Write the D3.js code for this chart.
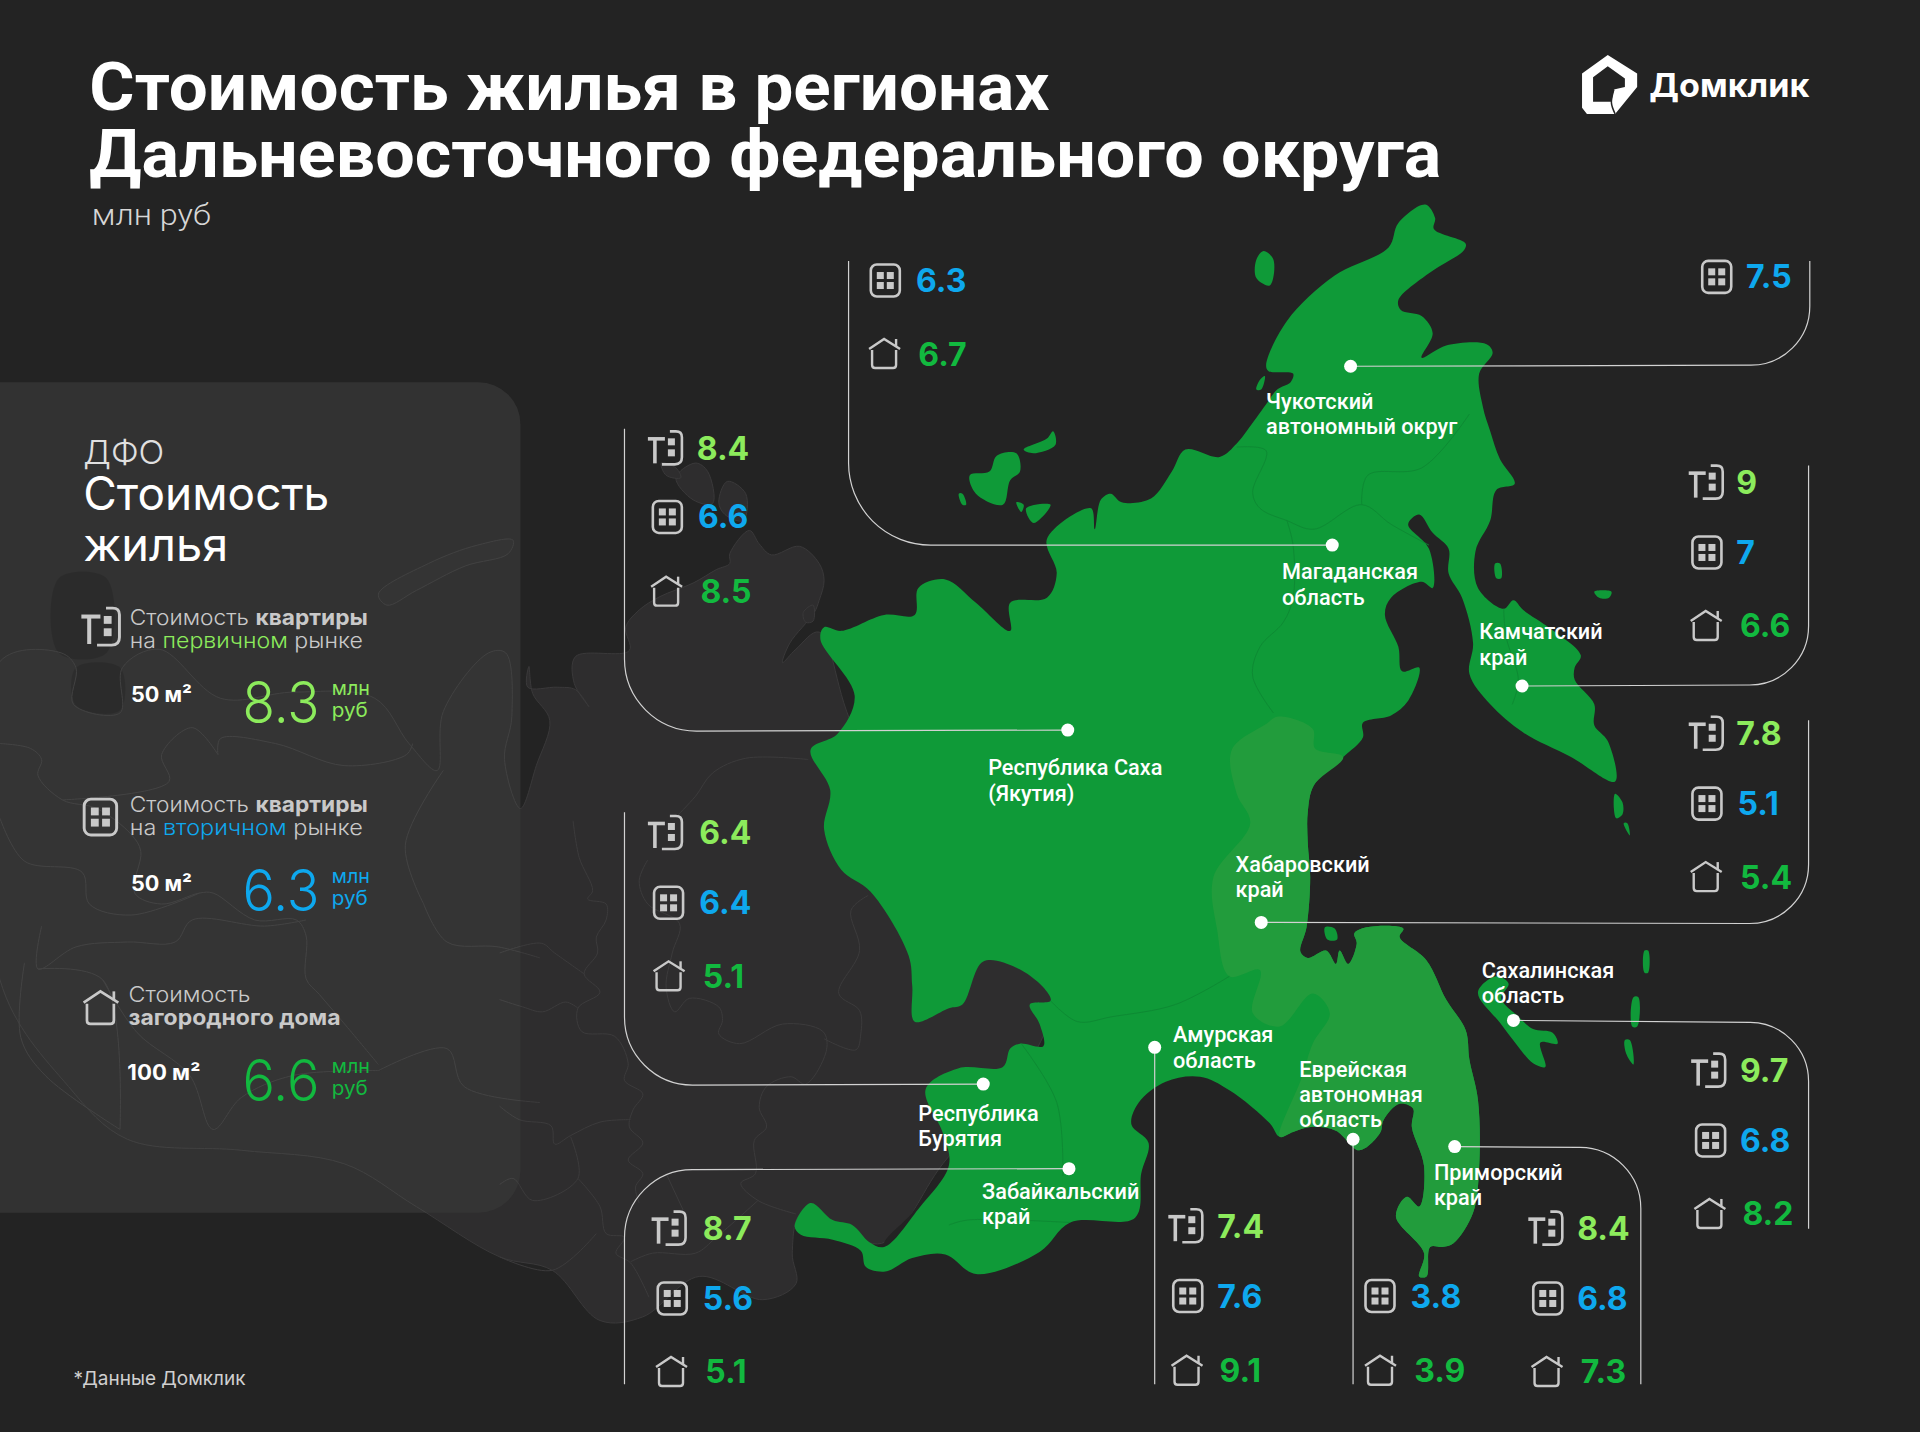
<!DOCTYPE html>
<html lang="ru">
<head>
<meta charset="utf-8">
<title>Стоимость жилья ДФО</title>
<script src="https://cdn.jsdelivr.net/npm/d3@7/dist/d3.min.js"></script>
<style>
html, body { margin: 0; padding: 0; background: #232323; }
svg { display: block; }
text { font-family: Inter, "Noto Sans", sans-serif; }
.din { font-family: Roboto, "Noto Sans", sans-serif; }
</style>
</head>
<body>
<svg id="chart" width="1920" height="1432"></svg>
<script>
// values, млн руб. null = no number shown for that region
const regions = ['Чукотский АО', 'Магаданская', 'Саха', 'Камчатский', 'Хабаровский', 'Бурятия', 'Сахалинская', 'Забайкальский', 'Амурская', 'Еврейская', 'Приморский']
const primaryValues = [null, null, '8.4', '9', '7.8', '6.4', '9.7', '8.7', '7.4', null, '8.4']
const secondaryValues = ['7.5', '6.3', '6.6', '7', '5.1', '6.4', '6.8', '5.6', '7.6', '3.8', '6.8']
const houseValues = [null, '6.7', '8.5', '6.6', '5.4', '5.1', '8.2', '5.1', '9.1', '3.9', '7.3']
const summaryValues = ['8.3', '6.3', '6.6']
const summaryAreas = ['50 м²', '50 м²', '100 м²']

const regionLabels = [
    ['Чукотский', 'автономный округ'], ['Магаданская', 'область'], ['Республика Саха', '(Якутия)'],
    ['Камчатский', 'край'], ['Хабаровский', 'край'], ['Республика', 'Бурятия'], ['Сахалинская', 'область'],
    ['Забайкальский', 'край'], ['Амурская', 'область'], ['Еврейская', 'автономная', 'область'], ['Приморский', 'край']
]

// geography, traced in picture units (1568 wide)
const mainland = [[1164,167],[1172,178],[1171,187],[1197,199],[1195,205],[1183,213],[1167,223],[1142,245],[1144,253],[1161,258],[1170,272],[1161,292],[1181,282],[1214,281],[1219,288],[1208,305],[1211,332],[1217,352],[1225,375],[1237,395],[1222,400],[1217,425],[1205,450],[1207,480],[1228,497],[1236,490],[1244,498],[1266,513],[1291,535],[1286,545],[1286,555],[1302,575],[1302,592],[1313,605],[1319,638],[1283,618],[1244,598],[1217,575],[1200,550],[1203,525],[1194,488],[1183,468],[1183,448],[1170,435],[1159,420],[1150,428],[1167,448],[1170,480],[1161,475],[1136,488],[1131,502],[1142,528],[1145,548],[1159,545],[1150,572],[1136,584],[1113,590],[1113,602],[1097,618],[1073,641],[1068,663],[1068,688],[1070,716],[1067,757],[1062,777],[1068,782],[1083,776],[1091,787],[1094,776],[1101,787],[1108,770],[1106,762],[1116,757],[1146,758],[1143,765],[1165,784],[1181,816],[1197,841],[1200,865],[1207,898],[1208,952],[1203,990],[1187,1015],[1178,1018],[1168,1018],[1165,1042],[1159,1042],[1163,1023],[1140,993],[1149,977],[1159,985],[1163,952],[1153,920],[1154,905],[1143,901],[1130,914],[1127,925],[1110,939],[1091,923],[1070,920],[1056,924],[1045,928],[1037,917],[1004,890],[980,879],[952,883],[930,900],[924,918],[938,933],[932,958],[927,994],[874,998],[849,1022],[797,1040],[772,1024],[745,1027],[723,1038],[707,1034],[703,1021],[680,1012],[654,1008],[649,1001],[662,982],[680,996],[696,1000],[710,1014],[722,1018],[750,987],[775,951],[770,925],[756,889],[783,872],[819,871],[825,856],[833,852],[852,854],[849,836],[841,820],[858,817],[852,806],[830,790],[803,785],[786,820],[775,823],[747,834],[745,805],[742,780],[711,728],[687,710],[673,677],[678,645],[662,612],[684,599],[698,568],[670,522],[673,512],[687,515],[722,502],[747,502],[750,480],[772,473],[797,492],[825,515],[825,492],[855,488],[863,468],[855,440],[891,415],[894,432],[899,408],[907,403],[916,410],[940,407],[957,385],[968,367],[996,373],[1010,362],[1018,352],[1034,330],[1043,318],[1054,312],[1056,305],[1036,303],[1034,298],[1051,262],[1090,225],[1134,202],[1142,182]]
const lighterArea = [[1006,612],[1034,591],[1044,585],[1072,595],[1074,611],[1097,618],[1073,641],[1068,663],[1068,688],[1070,716],[1067,757],[1062,777],[1068,782],[1083,776],[1091,787],[1094,776],[1101,787],[1108,770],[1106,762],[1116,757],[1146,758],[1143,765],[1165,784],[1181,816],[1197,841],[1200,865],[1207,898],[1208,952],[1203,990],[1187,1015],[1178,1018],[1168,1018],[1165,1042],[1159,1042],[1163,1023],[1140,993],[1149,977],[1159,985],[1163,952],[1153,920],[1154,905],[1143,901],[1130,914],[1127,925],[1110,939],[1091,923],[1070,920],[1056,924],[1045,928],[1063,880],[1072,852],[1086,827],[1072,811],[1045,838],[1023,827],[1029,792],[1004,797],[994,759],[991,716],[1021,672],[1010,648]]
const islands = [[[1026,212],[1032,205],[1040,212],[1037,233],[1026,227]],[[792,388],[808,385],[814,372],[830,370],[833,385],[825,392],[819,412],[797,403]],[[836,367],[855,358],[860,352],[862,363],[844,370]],[[838,415],[858,412],[844,427]],[[830,410],[836,412],[834,418]],[[783,403],[786,403],[789,412],[786,412]],[[1029,310],[1033,307],[1030,318],[1026,318]],[[1221,460],[1225,460],[1226,472],[1222,472]],[[1302,483],[1316,483],[1314,488],[1306,488]],[[1319,648],[1325,655],[1325,665],[1320,668],[1318,660]],[[1326,672],[1329,672],[1331,682]],[[1207,810],[1222,797],[1232,803],[1226,815],[1240,830],[1252,840],[1268,843],[1272,852],[1258,851],[1262,871],[1252,868],[1238,852],[1225,835]],[[1343,776],[1346,776],[1346,794],[1343,794]],[[1334,814],[1338,814],[1337,838],[1333,838]],[[1327,849],[1331,849],[1334,869],[1328,860]],[[1082,757],[1090,758],[1092,767],[1084,767]]]
const regionBorders = [[[1010,365],[1034,368],[1023,402],[1029,415],[1051,425],[1073,432],[1112,412],[1136,428],[1167,445]],[[1112,412],[1117,388],[1161,382],[1200,338]],[[1051,425],[1056,445],[1056,488],[1048,508],[1029,528],[1023,552],[1040,582]],[[858,817],[880,834],[908,830],[960,820],[1004,797]],[[834,852],[863,900],[868,960]],[[775,1000],[790,996],[874,998]],[[1228,497],[1230,520],[1240,555],[1235,575]]]

const ghostLand = [[0,540],[50,533],[62,545],[60,575],[98,582],[100,545],[130,530],[180,570],[240,565],[306,570],[334,607],[357,629],[362,581],[399,533],[413,533],[418,585],[412,620],[425,660],[438,625],[449,588],[435,566],[432,544],[431,561],[455,561],[470,563],[481,577],[469,558],[470,536],[514,531],[511,512],[522,498],[539,487],[566,476],[585,465],[596,460],[596,452],[612,433],[620,444],[630,453],[653,446],[669,460],[673,474],[669,490],[665,500],[645,525],[639,541],[650,530],[669,516],[700,600],[860,800],[850,850],[770,950],[720,1015],[655,990],[647,1023],[650,1048],[623,1061],[571,1042],[525,1075],[490,1078],[451,1037],[408,1026],[340,985],[281,950],[197,939],[104,930],[56,887],[0,800]]
const ghostIslands = [[[552,390],[568,378],[578,385],[582,411],[566,408]],[[587,410],[594,393],[609,403],[607,425],[592,420]],[[540,378],[552,382],[556,390],[544,388]],[[309,485],[350,460],[390,445],[419,441],[415,452],[380,462],[340,482],[316,494]],[[656,500],[664,494],[664,507],[658,508]]]
const ghostLakes = [[[722,1016],[745,990],[768,958],[772,965],[750,1000],[733,1022]]]
const panelSeas = [[[48,472],[87,472],[87,533],[48,533]],[[62,545],[98,545],[98,580],[62,576]]]
const ghostBorders = [[[660,620],[609,619],[582,631],[568,650],[552,667]],[[529,702],[522,719],[529,738],[555,754],[549,778],[544,806],[551,826],[563,815],[587,822],[590,833],[587,844],[604,852],[639,836],[672,842],[675,857],[658,885],[646,879],[626,887],[620,904],[626,920],[616,931],[617,958],[605,966],[619,980],[650,991]],[[673,848],[699,857],[703,844],[702,825],[685,811],[702,776],[695,743],[709,731]],[[468,670],[473,700],[484,727],[480,734],[495,738],[495,751],[487,765],[488,778],[477,795],[490,810],[472,823],[475,842],[502,846],[513,868],[510,882],[525,893],[517,906],[514,920],[525,933],[513,947],[525,958],[519,969],[522,982]],[[408,778],[442,770],[453,778],[477,795]],[[408,816],[427,822],[443,826],[462,818],[472,823]],[[408,903],[424,914],[450,919],[453,934],[466,927],[490,916],[515,914]],[[466,928],[472,962],[435,980],[419,962],[408,967]],[[472,962],[490,985],[495,1007],[510,1010],[503,1023],[515,1031],[530,1059]],[[408,1026],[451,1037],[487,1007]],[[515,1030],[533,1023],[568,1023],[585,1010],[619,980]],[[544,958],[558,988]]]
const panelBorders = [[[0,607],[25,611],[34,620],[31,633],[51,653],[79,660],[107,681],[115,695],[110,729],[132,738],[163,729],[174,729],[208,751],[242,751],[250,764],[250,799],[261,812],[284,839],[309,869]],[[178,616],[180,603],[225,607],[281,625],[332,616],[337,607]],[[178,616],[157,594],[132,616],[138,638],[51,653]],[[346,738],[365,769],[407,773],[441,782]],[[346,738],[331,690],[362,629]],[[34,756],[31,791],[62,773],[104,769],[143,769],[157,751],[216,756],[250,751]],[[0,668],[20,703],[67,712],[73,738],[107,747],[163,729]],[[309,874],[365,856],[379,887],[441,900]],[[20,786],[17,847],[37,878],[98,922]],[[84,800],[112,843],[155,878],[174,922],[197,896],[239,878],[309,874]],[[31,791],[84,800],[98,922]]]

// page layout in the same picture units
const dots = [[1103,299],[1088,445],[872,596],[1243,560],[1030,753],[803,885],[1236,833],[873,954],[943,855],[1105,930],[1188,936]]
const leaderCorners = [[1478,298],[693,445],[510,597],[1477,559],[1477,754],[510,886],[1477,835],[510,955],[null,null],[null,null],[1340,937]]
const leaderEnds = [[1478,213],[693,213],[510,350],[1477,380],[1477,588],[510,663],[1477,1003],[510,1130],[943,1130],[1105,1130],[1340,1130]]
const leaderRadius = [59, 82, 72, 59, 59, 68, 59, 68, 0, 0, 61]
const labelAnchors = [[1034,334],[1047,473],[807,633],[1208,522],[1009,712],[750,915],[1210,798],[802,979],[958,851],[1061,879],[1171,963]]
const rowY = [
    [null, 226, 288], [null, 229, 289], [366, 422, 483], [394, 451, 511], [599, 656, 716], [680, 737, 797],
    [874, 931, 991], [1003, 1060, 1120], [1001, 1058, 1119], [null, 1058, 1119], [1003, 1060, 1120]
]
const iconX = [[null,1402,null],[null,723,722],[543,545,544],[1393,1394,1393],[1393,1394,1393],[543,546,546],[1395,1397,1396],[546,549,548],[968,970,969],[null,1127,1127],[1262,1264,1263]]
const valueX = [[null,1426,null],[null,748,750],[569,570,572],[1418,1418,1421],[1418,1419,1421],[571,571,574],[1421,1421,1423],[574,574,576],[994,994,996],[null,1152,1155],[1288,1288,1291]]

const WHITE = '#ffffff'
const ICON = '#c9c9c9'
const BASE_GREEN = '#0f9a38'
const LIGHT_GREEN = '#229c3c'
const colors = { primary: '#8ceb5c', secondary: '#0ea8ee', house: '#12b93f' }

const svg = d3.select('#chart')
const x = d3.scaleLinear().domain([0, 1568]).range([0, 1920])
const y = d3.scaleLinear().domain([0, 1169]).range([0, 1432])
const closed = d3.line().x(d => x(d[0])).y(d => y(d[1])).curve(d3.curveCatmullRomClosed.alpha(0.5))
const open = d3.line().x(d => x(d[0])).y(d => y(d[1])).curve(d3.curveCatmullRom.alpha(0.5))

svg.append('rect').attr('width', 1920).attr('height', 1432).attr('fill', '#232323')

svg.append('clipPath').attr('id', 'panel-clip').append('rect')
    .attr('x', -60).attr('y', y(312)).attr('width', x(425) + 60).attr('height', y(990) - y(312)).attr('rx', 42)

// ghost map of the rest of Russia
const ghost = svg.append('g')
ghost.selectAll('.land').data([ghostLand, ...ghostIslands]).enter().append('path')
    .attr('d', closed).attr('fill', '#2e2d2e').attr('stroke', '#3a393a').attr('stroke-width', 1)
ghost.selectAll('.lake').data(ghostLakes).enter().append('path')
    .attr('d', closed).attr('fill', '#232323')
ghost.selectAll('.border').data([...ghostBorders, ...panelBorders]).enter().append('path')
    .attr('d', open).attr('fill', 'none').attr('stroke', '#3c3b3c').attr('stroke-width', 1)

// side panel sits over the ghost map, coast and borders come back on top of it
svg.append('rect').attr('x', -60).attr('y', y(312)).attr('width', x(425) + 60).attr('height', y(990) - y(312))
    .attr('rx', 42).attr('fill', '#363636').attr('fill-opacity', 0.82)
const inPanel = svg.append('g').attr('clip-path', 'url(#panel-clip)')
inPanel.selectAll('.sea').data(panelSeas).enter().append('path')
    .attr('d', closed).attr('fill', '#000000').attr('fill-opacity', 0.12)
inPanel.selectAll('.coast').data([ghostLand, ...ghostIslands]).enter().append('path')
    .attr('d', closed).attr('fill', 'none').attr('stroke', '#414141').attr('stroke-width', 1)
inPanel.selectAll('.pb').data([...panelBorders, ...ghostBorders]).enter().append('path')
    .attr('d', open).attr('fill', 'none').attr('stroke', '#434343').attr('stroke-width', 1)

// far east map
const map = svg.append('g')
map.append('path').datum(mainland).attr('d', closed).attr('fill', BASE_GREEN)
map.selectAll('.island').data(islands).enter().append('path').attr('d', closed).attr('fill', BASE_GREEN)
map.append('path').datum(lighterArea).attr('d', closed).attr('fill', LIGHT_GREEN)
map.selectAll('.rb').data(regionBorders).enter().append('path')
    .attr('d', open).attr('fill', 'none').attr('stroke', '#0d8a33').attr('stroke-width', 1)

// helpers
const label = (parent, px, py, str, size, weight, color, width, cls) => {
    const t = parent.append('text').attr('x', px).attr('y', py).attr('font-size', size)
        .attr('font-weight', weight).attr('fill', color).text(str)
    if (cls) t.attr('class', cls)
    if (width) t.attr('textLength', width).attr('lengthAdjust', 'spacingAndGlyphs')
    return t
}

const iconPrimary = (g, s, c) => {
    const n = g.append('g').attr('transform', `scale(${s})`).attr('fill', 'none').attr('stroke', c)
    n.append('path').attr('d', 'M-17,-9.5 H0').attr('stroke-width', 3.6)
    n.append('path').attr('d', 'M-10,-9 V15').attr('stroke-width', 3.6)
    n.append('path').attr('d', 'M5,-17 H11 Q17,-17 17,-11 V9 Q17,16 10,16 H-3').attr('stroke-width', 2.6)
    n.append('rect').attr('x', 3).attr('y', -10).attr('width', 7).attr('height', 7).attr('fill', c).attr('stroke', 'none')
    n.append('rect').attr('x', 3).attr('y', 1).attr('width', 7).attr('height', 7).attr('fill', c).attr('stroke', 'none')
}

const iconSecondary = (g, s, c) => {
    const n = g.append('g').attr('transform', `scale(${s})`)
    n.append('rect').attr('x', -14.5).attr('y', -16).attr('width', 29).attr('height', 32).attr('rx', 6)
        .attr('fill', 'none').attr('stroke', c).attr('stroke-width', 2.6)
    d3.cross([-8.5, 1.5], [-8.5, 1.5]).forEach(p => {
        n.append('rect').attr('x', p[0]).attr('y', p[1]).attr('width', 7).attr('height', 7).attr('fill', c)
    })
}

const iconHouse = (g, s, c) => {
    const n = g.append('g').attr('transform', `scale(${s})`).attr('fill', 'none').attr('stroke', c).attr('stroke-width', 2.4)
    n.append('path').attr('d', 'M-15,-5 L0,-15 L16,-5')
    n.append('path').attr('d', 'M-12,-4 V11 Q-12,14 -9,14 H9 Q12,14 12,11 V-4')
    n.append('path').attr('d', 'M12,-15 V-7')
}

const icons = [iconPrimary, iconSecondary, iconHouse]

// title
label(svg, x(73), 110, 'Стоимость жилья в регионах', 67, 700, WHITE, 960, 'din')
label(svg, x(73), 177, 'Дальневосточного федерального округа', 67, 700, WHITE, 1352, 'din')
label(svg, x(75), 225, 'млн руб', 30, 300, '#d6d6d6', 119, 'din')
label(svg, x(60), y(1131), '*Данные Домклик', 19, 400, '#d0d0d0', 172)

// logo
const straight = d3.line().x(d => x(d[0])).y(d => y(d[1])).curve(d3.curveLinearClosed)
const logo = svg.append('g')
logo.append('path').attr('fill', WHITE).attr('fill-rule', 'evenodd').attr('d', () => {
    const outer = [[1292,60],[1313,45],[1337,60],[1337,71],[1319,93],[1296,93],[1292,88]]
    const inner = [[1301,63],[1313,54],[1327,64],[1327,71],[1318,73],[1316,83],[1301,83]]
    return straight(outer) + straight(inner)
})
logo.append('path').datum([[1318,73],[1316,84],[1319,93]]).attr('d', open).attr('fill', 'none').attr('stroke', '#232323').attr('stroke-width', 1.5)
label(logo, x(1347), y(79), 'Домклик', 33, 700, WHITE, 160)

// panel text
label(svg, x(68), y(379), 'ДФО', 33, 300, '#e0e0e0', 81)
label(svg, x(68), y(416), 'Стоимость', 46, 400, WHITE, 246)
label(svg, x(68), y(458), 'жилья', 46, 400, WHITE, 145)

const summaryKeys = ['primary', 'secondary', 'house']
const summaryIconY = [512, 667, 823]
const summaryTextY = [[510, 529], [663, 682], [818, 837]]
const summaryValueY = [590, 744, 899]
const summaryText = [
    [['Стоимость ', 300, ICON], ['квартиры', 700, ICON]],
    [['Стоимость ', 300, ICON], ['квартиры', 700, ICON]],
    [['Стоимость', 300, ICON]]
]
const summarySecond = [
    [['на ', 300, ICON], ['первичном', 300, colors.primary], [' рынке', 300, ICON]],
    [['на ', 300, ICON], ['вторичном', 300, colors.secondary], [' рынке', 300, ICON]],
    [['загородного дома', 700, ICON]]
]
const summaryTextX = [106, 106, 105]
const summaryTextW = [[238, 233], [238, 233], [122, 212]]
const summaryAreaX = [107, 107, 104]
const summaryAreaW = [61, 61, 73]

summaryKeys.forEach((k, i) => {
    const g = svg.append('g').attr('transform', `translate(${x(82)},${y(summaryIconY[i])})`)
    icons[i](g, 1.12, ICON)
    ;[summaryText[i], summarySecond[i]].forEach((runs, j) => {
        const t = label(svg, x(summaryTextX[i]), y(summaryTextY[i][j]), null, 22, 300, ICON, summaryTextW[i][j])
        runs.forEach(r => t.append('tspan').attr('font-weight', r[1]).attr('fill', r[2]).text(r[0]))
    })
    label(svg, x(summaryAreaX[i]), y(summaryValueY[i] - 17), summaryAreas[i], 21, 700, WHITE, summaryAreaW[i])
    label(svg, x(198), y(summaryValueY[i]), summaryValues[i], 58, 300, colors[k], 77)
    label(svg, x(271), y(summaryValueY[i] - 23), 'млн', 20, 400, colors[k], 38)
    label(svg, x(271), y(summaryValueY[i] - 5), 'руб', 20, 400, colors[k], 36)
})

// leader lines and dots
regions.forEach((r, i) => {
    const p = d3.path()
    p.moveTo(x(dots[i][0]), y(dots[i][1]))
    if (leaderRadius[i]) {
        p.arcTo(x(leaderCorners[i][0]), y(leaderCorners[i][1]), x(leaderEnds[i][0]), y(leaderEnds[i][1]), leaderRadius[i])
    }
    p.lineTo(x(leaderEnds[i][0]), y(leaderEnds[i][1]))
    svg.append('path').attr('d', p.toString()).attr('fill', 'none').attr('stroke', '#d2d2d2').attr('stroke-width', 1.2)
})
svg.selectAll('.dot').data(dots).enter().append('circle')
    .attr('cx', d => x(d[0])).attr('cy', d => y(d[1])).attr('r', 6.5).attr('fill', WHITE)

// region names
regionLabels.forEach((lines, i) => {
    lines.forEach((line, j) => {
        label(svg, x(labelAnchors[i][0]), y(labelAnchors[i][1] + j * 20.5), line, 21.7, 500, WHITE, null, 'din')
    })
})

// numbers
const series = [primaryValues, secondaryValues, houseValues]
regions.forEach((r, i) => {
    series.forEach((values, k) => {
        if (values[i] === null) return
        const cy = y(rowY[i][k])
        const g = svg.append('g').attr('transform', `translate(${x(iconX[i][k])},${cy})`)
        icons[k](g, 1, ICON)
        label(svg, x(valueX[i][k]), cy + 11.5, values[i], 32, 700, colors[summaryKeys[k]])
    })
})
</script>
</body>
</html>
